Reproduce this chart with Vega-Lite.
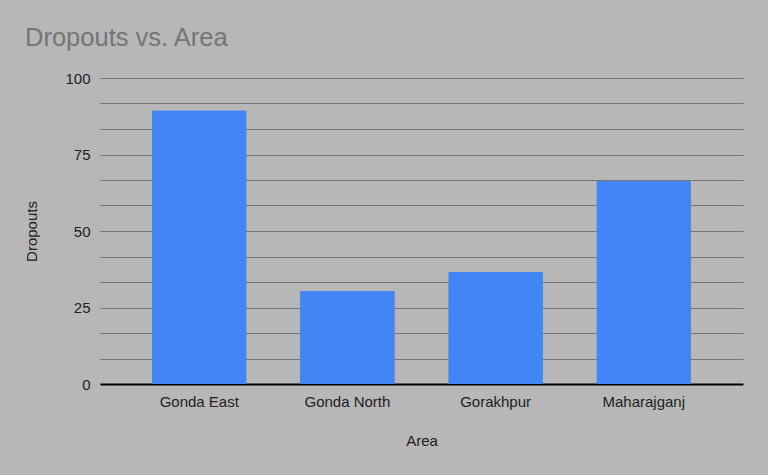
{
  "$schema": "https://vega.github.io/schema/vega-lite/v6.json",
  "autosize": {"type": "none"},
  "width": 643,
  "height": 306,
  "padding": {"left": 100, "top": 78, "right": 25, "bottom": 91},
  "background": "#b7b7b7",
  "title": {
    "text": "Dropouts vs. Area",
    "anchor": "start",
    "frame": "group",
    "dx": -75,
    "offset": 20,
    "font": "Liberation Sans",
    "fontSize": 25.5,
    "fontWeight": "normal",
    "color": "#757575"
  },
  "data": {
    "values": [
      {"Area": "Gonda East", "Dropouts": 89.5},
      {"Area": "Gonda North", "Dropouts": 30.5},
      {"Area": "Gorakhpur", "Dropouts": 36.7},
      {"Area": "Maharajganj", "Dropouts": 66.4}
    ]
  },
  "mark": {"type": "bar", "color": "#4285f4", "cornerRadiusTopLeft": 2, "cornerRadiusTopRight": 2},
  "encoding": {
    "x": {
      "field": "Area",
      "type": "nominal",
      "title": "Area",
      "scale": {"paddingInner": 0.36, "paddingOuter": 0.35},
      "axis": {
        "labelAngle": 0,
        "ticks": false,
        "domainColor": "#000000",
        "domainWidth": 2,
        "labelPadding": 10,
        "titlePadding": 24
      }
    },
    "y": {
      "field": "Dropouts",
      "type": "quantitative",
      "title": "Dropouts",
      "scale": {"domain": [0, 100], "nice": false},
      "axis": {
        "values": [0, 8.333333333333334, 16.666666666666668, 25, 33.333333333333336, 41.666666666666664, 50, 58.333333333333336, 66.66666666666667, 75, 83.33333333333333, 91.66666666666667, 100],
        "labelExpr": "abs(datum.value % 25) < 0.001 ? format(datum.value, 'd') : ''",
        "domain": false,
        "ticks": false,
        "gridColor": "#767676",
        "gridWidth": 1,
        "labelPadding": 10,
        "titlePadding": 25
      }
    }
  },
  "config": {
    "view": {"stroke": null},
    "axis": {
      "labelFont": "Liberation Sans",
      "labelFontSize": 15,
      "labelColor": "#222222",
      "titleFont": "Liberation Sans",
      "titleFontSize": 15,
      "titleFontWeight": "normal",
      "titleColor": "#222222"
    }
  }
}
